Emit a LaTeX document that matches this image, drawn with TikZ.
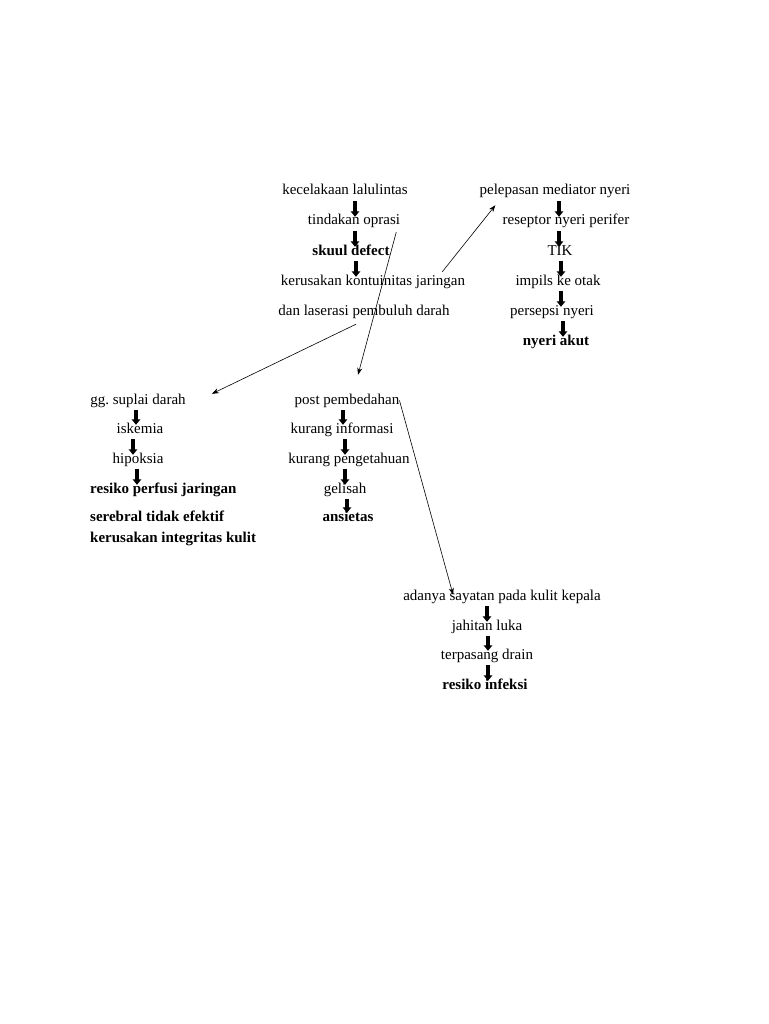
\documentclass[tikz,border=0pt]{standalone}
\usepackage{fontspec}
\setmainfont{Liberation Serif}
\usetikzlibrary{arrows.meta,calc}
\frenchspacing
\begin{document}
\begin{tikzpicture}[x=1pt,y=-1pt,
  txt/.style={inner sep=0pt, text height=11pt, text depth=4pt, anchor=base, font=\fontsize{15}{18}\selectfont},
  bld/.style={txt, font=\fontsize{15}{18}\selectfont\bfseries},
  thk/.style={line width=3.2pt, -{Triangle[width=8.5pt,length=5.5pt]}, shorten <=2pt, shorten >=-3pt},
  conn/.style={line width=0.6pt, -{Stealth[width=5pt,length=7pt]}}]
\useasboundingbox[fill=white] (0,0) rectangle (768,1024);
% top-left column
\node[txt] (kec) at (345,195) {kecelakaan lalulintas};
\node[txt] (tind) at (354,225) {tindakan oprasi};
\node[bld] (skuul) at (351,255) {skuul defect};
\node[txt] (kerus) at (373,285) {kerusakan kontuinitas jaringan};
\node[txt] (dan) at (364,315) {dan laserasi pembuluh darah};
% top-right column
\node[txt] (pelep) at (555,195) {pelepasan mediator nyeri};
\node[txt] (resep) at (566,225) {reseptor nyeri perifer};
\node[txt] (tik) at (560,255) {TIK};
\node[txt] (impils) at (558,285) {impils ke otak};
\node[txt] (persepsi) at (552,315) {persepsi nyeri};
\node[bld] (akut) at (556,345) {nyeri akut};
% left column
\node[txt] (gg) at (138,404) {gg. suplai darah};
\node[txt] (isk) at (140,433) {iskemia};
\node[txt] (hip) at (138,463) {hipoksia};
\node[bld, anchor=base west] (perf) at (90,493) {resiko perfusi jaringan};
\node[bld, anchor=base west] (sereb) at (90,521) {serebral tidak efektif};
\node[bld, anchor=base west] (integ) at (90,542) {kerusakan integritas kulit};
% middle column
\node[txt] (post) at (347,404) {post pembedahan};
\node[txt] (info) at (342,433) {kurang informasi};
\node[txt] (peng) at (349,463) {kurang pengetahuan};
\node[txt] (gel) at (345,493) {gelisah};
\node[bld] (ans) at (348,521) {ansietas};
% bottom column
\node[txt] (sayat) at (502,600) {adanya sayatan pada kulit kepala};
\node[txt] (jahit) at (487,630) {jahitan luka};
\node[txt] (drain) at (487,659) {terpasang drain};
\node[bld] (infeksi) at (485,689) {resiko infeksi};

% thick arrows
\draw[thk] (kec.south -| 355,0) -- (tind.north -| 355,0);
\draw[thk] (tind.south -| 355,0) -- (skuul.north -| 355,0);
\draw[thk] (skuul.south -| 356,0) -- (kerus.north -| 356,0);
\draw[thk] (pelep.south -| 559,0) -- (resep.north -| 559,0);
\draw[thk] (resep.south -| 559,0) -- (tik.north -| 559,0);
\draw[thk] (tik.south -| 561,0) -- (impils.north -| 561,0);
\draw[thk] (impils.south -| 561,0) -- (persepsi.north -| 561,0);
\draw[thk] (persepsi.south -| 563,0) -- (akut.north -| 563,0);
\draw[thk] (gg.south -| 136,0) -- (isk.north -| 136,0);
\draw[thk] (isk.south -| 133,0) -- (hip.north -| 133,0);
\draw[thk] (hip.south -| 137,0) -- (perf.north -| 137,0);
\draw[thk] (post.south -| 343,0) -- (info.north -| 343,0);
\draw[thk] (info.south -| 345,0) -- (peng.north -| 345,0);
\draw[thk] (peng.south -| 345,0) -- (gel.north -| 345,0);
\draw[thk] (gel.south -| 347,0) -- (ans.north -| 347,0);
\draw[thk] (sayat.south -| 487,0) -- (jahit.north -| 487,0);
\draw[thk] (jahit.south -| 488,0) -- (drain.north -| 488,0);
\draw[thk] (drain.south -| 488,0) -- (infeksi.north -| 488,0);

% thin connectors
\draw[conn] ($(tind.south east)+(-4,3)$) -- ($(post.north)+(11,-18)$);
\draw[conn] ($(kerus.north east)+(-23,-2)$) -- ($(pelep.south west)+(16,6)$);
\draw[conn] ($(dan.south)+(-8,5)$) -- ($(gg.north east)+(26,1)$);
\draw[conn] (post.east) -- ($(sayat.north west)+(50,6)$);
\end{tikzpicture}
\end{document}
